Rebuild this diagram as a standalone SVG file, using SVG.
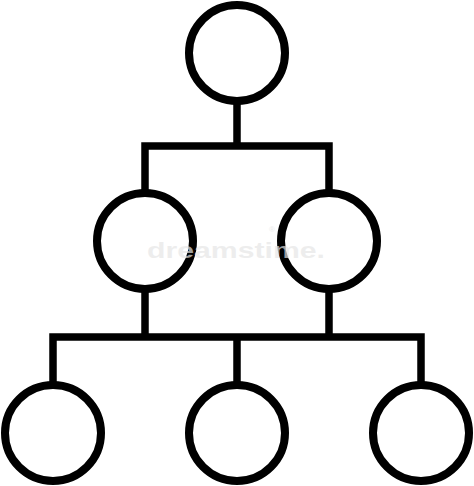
<svg xmlns="http://www.w3.org/2000/svg" width="474" height="486" viewBox="0 0 474 486">
<style>
.node{fill:#fff;stroke:#000;stroke-width:8}
.conn{fill:none;stroke:#000;stroke-width:7.5;stroke-linecap:square;stroke-linejoin:miter}
.wm{fill:#e6e6e6;fill-opacity:0.7;font-family:"Liberation Sans",Arial,sans-serif;font-weight:bold}
</style>
<rect width="474" height="486" fill="#fff"/>
<g id="connectors">
<path class="conn" d="M237 100 V146 M145 190 V146 H329 V190"/>
<path class="conn" d="M145 290 V337 M329 290 V337 M53 383 V337 H421 V383 M237 337 V383"/>
</g>
<g id="n-root"><circle class="node" cx="237" cy="53" r="48"/></g>
<g id="n-mid-left"><circle class="node" cx="145" cy="241" r="48"/></g>
<g id="n-mid-right"><circle class="node" cx="329" cy="241" r="48"/></g>
<g id="n-bot-left"><circle class="node" cx="53" cy="433" r="48"/></g>
<g id="n-bot-mid"><circle class="node" cx="237" cy="433" r="48"/></g>
<g id="n-bot-right"><circle class="node" cx="421" cy="433" r="48"/></g>
<text class="wm" x="147" y="258" font-size="22" textLength="178" lengthAdjust="spacingAndGlyphs">dreamstime.</text>
<text class="wm" x="269" y="232" font-size="8">®</text>
</svg>
